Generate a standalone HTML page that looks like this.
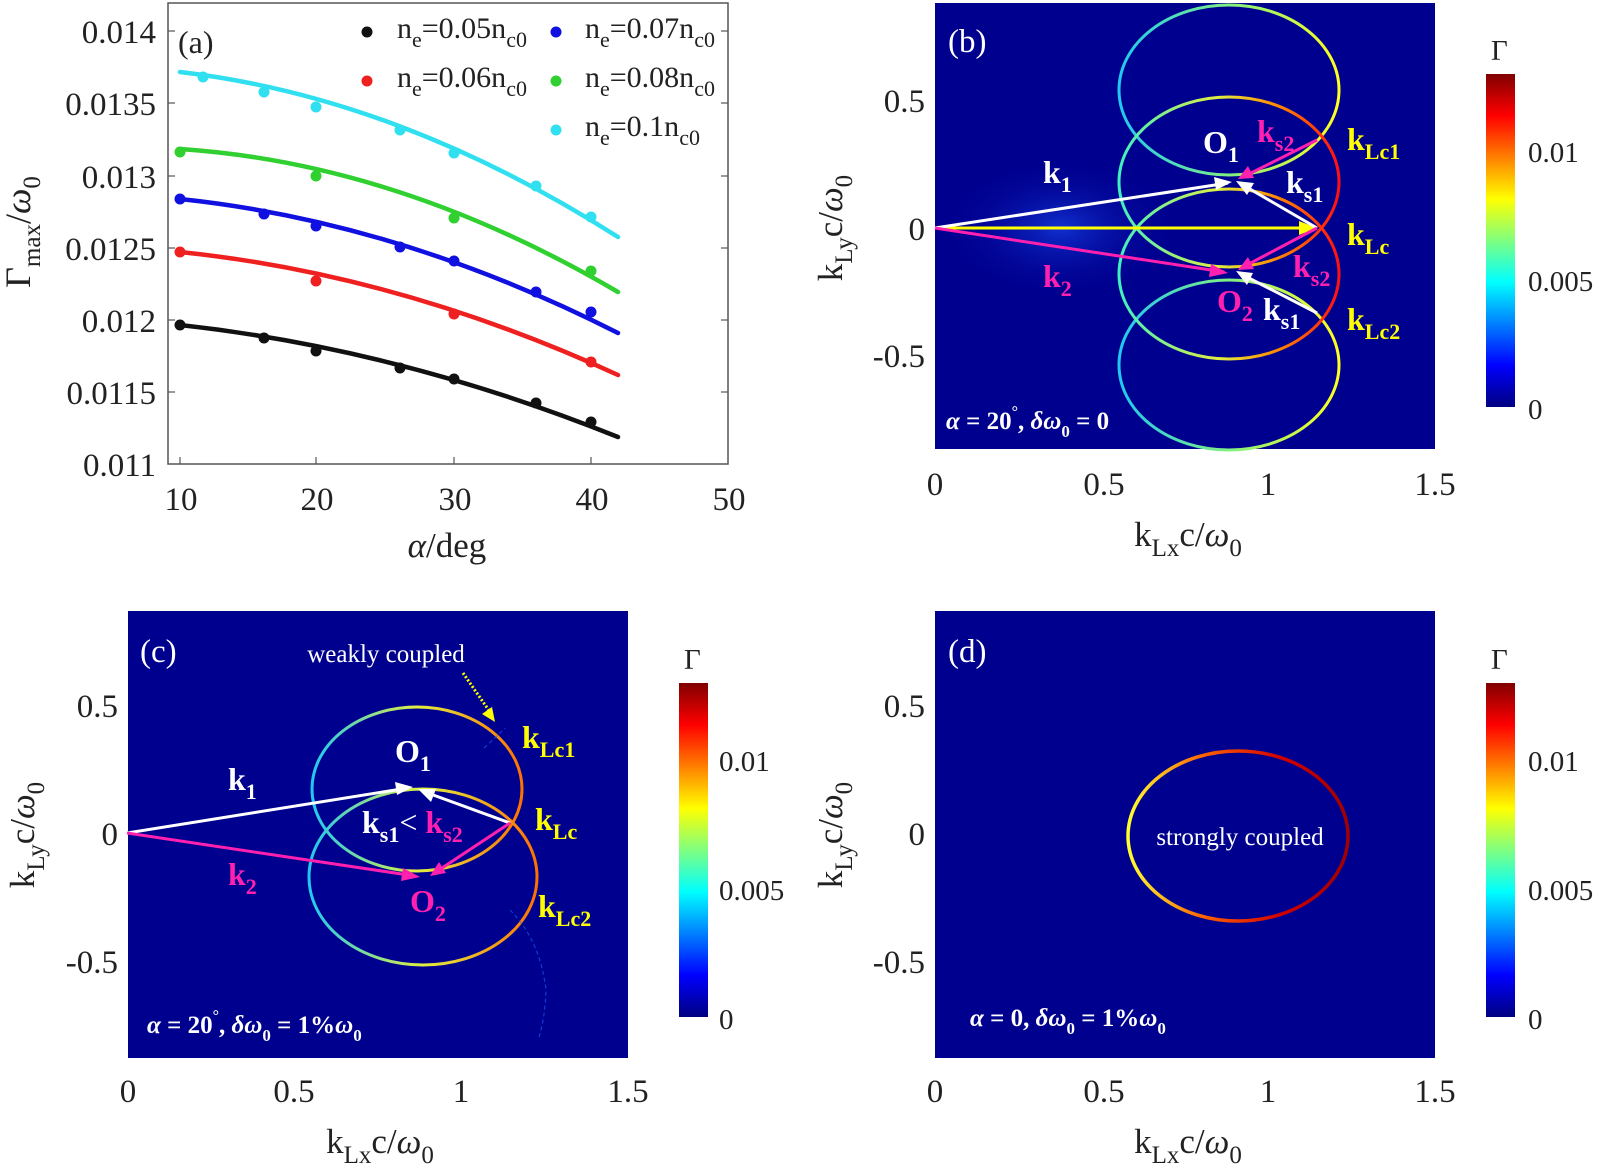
<!DOCTYPE html>
<html><head><meta charset="utf-8"><style>
html,body{margin:0;padding:0;background:#fff}
svg{display:block}
text{font-family:"Liberation Serif",serif}
</style></head><body>
<svg width="1600" height="1172" viewBox="0 0 1600 1172" xmlns="http://www.w3.org/2000/svg">
<defs>
<linearGradient id="jet" x1="0" y1="1" x2="0" y2="0">
<stop offset="0" stop-color="#000080"/><stop offset="0.125" stop-color="#0000ff"/><stop offset="0.375" stop-color="#00ffff"/><stop offset="0.625" stop-color="#ffff00"/><stop offset="0.875" stop-color="#ff0000"/><stop offset="1" stop-color="#800000"/>
</linearGradient>
<linearGradient id="cy" x1="0" y1="0" x2="1" y2="0"><stop offset="0" stop-color="#20c8f0"/><stop offset="0.5" stop-color="#80f080"/><stop offset="1" stop-color="#ffff20"/></linearGradient>
<linearGradient id="gr" x1="0" y1="0" x2="1" y2="0"><stop offset="0" stop-color="#40f0c0"/><stop offset="0.45" stop-color="#e0f040"/><stop offset="0.7" stop-color="#ff9000"/><stop offset="1" stop-color="#ff1010"/></linearGradient>
<linearGradient id="co" x1="0" y1="0" x2="1" y2="0"><stop offset="0" stop-color="#20c8f0"/><stop offset="0.5" stop-color="#e0f040"/><stop offset="1" stop-color="#ff7000"/></linearGradient>
<linearGradient id="yr" x1="0" y1="0" x2="1" y2="0"><stop offset="0" stop-color="#ffff30"/><stop offset="0.35" stop-color="#ff6000"/><stop offset="0.7" stop-color="#d00000"/><stop offset="1" stop-color="#a00000"/></linearGradient>
<radialGradient id="glow" cx="0.5" cy="0.5" r="0.5"><stop offset="0" stop-color="#1030d0"/><stop offset="1" stop-color="#00008f" stop-opacity="0"/></radialGradient>
</defs>

<!-- Panel (a) -->
<rect x="168" y="3" width="560" height="461" fill="#fff" stroke="#555" stroke-width="1.5"/>
<g stroke="#555" stroke-width="1.2">
<line x1="168" y1="31" x2="175" y2="31"/><line x1="168" y1="103" x2="175" y2="103"/><line x1="168" y1="176" x2="175" y2="176"/><line x1="168" y1="248" x2="175" y2="248"/><line x1="168" y1="320" x2="175" y2="320"/><line x1="168" y1="392" x2="175" y2="392"/>
<line x1="728" y1="31" x2="721" y2="31"/><line x1="728" y1="103" x2="721" y2="103"/><line x1="728" y1="176" x2="721" y2="176"/><line x1="728" y1="248" x2="721" y2="248"/><line x1="728" y1="320" x2="721" y2="320"/><line x1="728" y1="392" x2="721" y2="392"/>
<line x1="180" y1="464" x2="180" y2="457"/><line x1="316" y1="464" x2="316" y2="457"/><line x1="454" y1="464" x2="454" y2="457"/><line x1="591" y1="464" x2="591" y2="457"/>
</g>
<g font-size="33" fill="#222" text-anchor="end">
<text x="156" y="43">0.014</text><text x="156" y="115">0.0135</text><text x="156" y="188">0.013</text><text x="156" y="260">0.0125</text><text x="156" y="332">0.012</text><text x="156" y="404">0.0115</text><text x="156" y="476">0.011</text>
</g>
<g font-size="33" fill="#222" text-anchor="middle">
<text x="181" y="510">10</text><text x="317" y="510">20</text><text x="455" y="510">30</text><text x="592" y="510">40</text><text x="729" y="510">50</text>
<text x="447" y="557" font-size="35"><tspan font-style="italic">α</tspan>/deg</text>
</g>
<text transform="translate(30,232) rotate(-90)" font-size="36" fill="#222" text-anchor="middle">Γ<tspan font-size="25" dy="10">max</tspan><tspan dy="-10">/</tspan><tspan font-style="italic">ω</tspan><tspan font-size="25" dy="10">0</tspan></text>
<text x="178" y="53" font-size="32" fill="#222">(a)</text>
<g fill="none" stroke-width="4.5" stroke-linecap="round">
<path stroke="#30e0f0" d="M180,72 Q399,97.5 618,237"/>
<path stroke="#30d030" d="M180,149 Q399,163.5 618,292"/>
<path stroke="#1010e0" d="M180,199 Q399,222 618,333"/>
<path stroke="#ee2020" d="M180,252 Q399,274.5 618,375"/>
<path stroke="#111" d="M180,325 Q399,349 618,437"/>
</g>
<g>
<g fill="#30e0f0"><circle cx="203" cy="77" r="5.5"/><circle cx="264" cy="92" r="5.5"/><circle cx="316" cy="107" r="5.5"/><circle cx="400" cy="130" r="5.5"/><circle cx="454" cy="153" r="5.5"/><circle cx="536" cy="186" r="5.5"/><circle cx="591" cy="217" r="5.5"/></g>
<g fill="#30d030"><circle cx="180" cy="152" r="5.5"/><circle cx="316" cy="176" r="5.5"/><circle cx="454" cy="218" r="5.5"/><circle cx="591" cy="271" r="5.5"/></g>
<g fill="#1010e0"><circle cx="180" cy="199" r="5.5"/><circle cx="264" cy="214" r="5.5"/><circle cx="316" cy="226" r="5.5"/><circle cx="400" cy="247" r="5.5"/><circle cx="454" cy="261" r="5.5"/><circle cx="536" cy="292" r="5.5"/><circle cx="591" cy="312" r="5.5"/></g>
<g fill="#ee2020"><circle cx="180" cy="252" r="5.5"/><circle cx="316" cy="281" r="5.5"/><circle cx="454" cy="314" r="5.5"/><circle cx="591" cy="362" r="5.5"/></g>
<g fill="#111"><circle cx="180" cy="325" r="5.5"/><circle cx="264" cy="338" r="5.5"/><circle cx="316" cy="351" r="5.5"/><circle cx="400" cy="368" r="5.5"/><circle cx="454" cy="379" r="5.5"/><circle cx="536" cy="403" r="5.5"/><circle cx="591" cy="422" r="5.5"/></g>
</g>
<!-- legend -->
<circle cx="367" cy="32" r="5.5" fill="#111"/><circle cx="556" cy="32" r="5.5" fill="#1010e0"/>
<circle cx="367" cy="81" r="5.5" fill="#ee2020"/><circle cx="556" cy="81" r="5.5" fill="#30d030"/>
<circle cx="556" cy="130" r="5.5" fill="#30e0f0"/>
<g font-size="30" fill="#222">
<text x="397" y="38">n<tspan font-size="22" dy="9">e</tspan><tspan dy="-9">=0.05n</tspan><tspan font-size="22" dy="9">c0</tspan></text>
<text x="585" y="38">n<tspan font-size="22" dy="9">e</tspan><tspan dy="-9">=0.07n</tspan><tspan font-size="22" dy="9">c0</tspan></text>
<text x="397" y="87">n<tspan font-size="22" dy="9">e</tspan><tspan dy="-9">=0.06n</tspan><tspan font-size="22" dy="9">c0</tspan></text>
<text x="585" y="87">n<tspan font-size="22" dy="9">e</tspan><tspan dy="-9">=0.08n</tspan><tspan font-size="22" dy="9">c0</tspan></text>
<text x="585" y="136">n<tspan font-size="22" dy="9">e</tspan><tspan dy="-9">=0.1n</tspan><tspan font-size="22" dy="9">c0</tspan></text>
</g>

<!-- Panel (b) -->
<rect x="935" y="3" width="500" height="446" fill="#00008f"/>
<ellipse cx="1060" cy="228" rx="120" ry="70" fill="url(#glow)"/>
<g fill="none" stroke-width="3">
<ellipse cx="1229" cy="90" rx="110" ry="85" stroke="url(#cy)"/>
<ellipse cx="1229" cy="365" rx="110" ry="85" stroke="url(#cy)"/>
<ellipse cx="1229" cy="182" rx="110" ry="85" stroke="url(#gr)"/>
<ellipse cx="1229" cy="274" rx="110" ry="85" stroke="url(#gr)"/>
</g>
<g stroke-width="3" fill="none">
<line x1="935" y1="228" x2="1305" y2="228" stroke="#ffff00"/>
<path d="M1317,228 l-18,-7 v14 z" fill="#ffff00" stroke="none"/>
<line x1="935" y1="228" x2="1228" y2="183" stroke="#fff"/>
<path d="M1232,182 l-18,-5 l2,13 z" fill="#fff" stroke="none"/>
<line x1="935" y1="228" x2="1224" y2="272" stroke="#ff20b0"/>
<path d="M1228,273 l-17,-9 l-2,13 z" fill="#ff20b0" stroke="none"/>
<line x1="1317" y1="228" x2="1243" y2="185" stroke="#fff"/>
<path d="M1236,181 l18,2 l-7,12 z" fill="#fff" stroke="none"/>
<line x1="1317" y1="140" x2="1245" y2="176" stroke="#ff20b0"/>
<path d="M1238,179 l10,-13 l6,12 z" fill="#ff20b0" stroke="none"/>
<line x1="1317" y1="228" x2="1245" y2="266" stroke="#ff20b0"/>
<path d="M1238,270 l10,-13 l6,12 z" fill="#ff20b0" stroke="none"/>
<line x1="1317" y1="313" x2="1243" y2="275" stroke="#fff"/>
<path d="M1236,271 l17,2 l-6,12 z" fill="#fff" stroke="none"/>
</g>
<g font-size="32" font-weight="bold">
<text x="1043" y="183" fill="#fff">k<tspan font-size="22" dy="9">1</tspan></text>
<text x="1043" y="287" fill="#ff20b0">k<tspan font-size="22" dy="9">2</tspan></text>
<text x="1203" y="153" fill="#fff">O<tspan font-size="22" dy="9">1</tspan></text>
<text x="1217" y="312" fill="#ff20b0">O<tspan font-size="22" dy="9">2</tspan></text>
<text x="1257" y="142" fill="#ff20b0">k<tspan font-size="22" dy="9">s2</tspan></text>
<text x="1286" y="193" fill="#fff">k<tspan font-size="22" dy="9">s1</tspan></text>
<text x="1293" y="277" fill="#ff20b0">k<tspan font-size="22" dy="9">s2</tspan></text>
<text x="1263" y="320" fill="#fff">k<tspan font-size="22" dy="9">s1</tspan></text>
<text x="1347" y="150" fill="#ffff00">k<tspan font-size="22" dy="9">Lc1</tspan></text>
<text x="1347" y="245" fill="#ffff00">k<tspan font-size="22" dy="9">Lc</tspan></text>
<text x="1347" y="330" fill="#ffff00">k<tspan font-size="22" dy="9">Lc2</tspan></text>
</g>
<text x="946" y="429" font-size="25" font-weight="bold" fill="#fff"><tspan font-style="italic">α</tspan> = 20<tspan font-size="16" dy="-12">°</tspan><tspan dy="12">, </tspan><tspan font-style="italic">δω</tspan><tspan font-size="17" dy="8">0</tspan><tspan dy="-8"> = 0</tspan></text>
<text x="948" y="52" font-size="33" fill="#fff">(b)</text>
<g font-size="33" fill="#222" text-anchor="end">
<text x="925" y="112">0.5</text><text x="925" y="240">0</text><text x="925" y="367">-0.5</text>
</g>
<g font-size="33" fill="#222" text-anchor="middle">
<text x="935" y="495">0</text><text x="1104" y="495">0.5</text><text x="1268" y="495">1</text><text x="1435" y="495">1.5</text>
</g>
<text x="1188" y="546" font-size="35" fill="#222" text-anchor="middle">k<tspan font-size="25" dy="10">Lx</tspan><tspan dy="-10">c/</tspan><tspan font-style="italic">ω</tspan><tspan font-size="25" dy="10">0</tspan></text>
<text transform="translate(842,228) rotate(-90)" font-size="35" fill="#222" text-anchor="middle">k<tspan font-size="25" dy="10">Ly</tspan><tspan dy="-10">c/</tspan><tspan font-style="italic">ω</tspan><tspan font-size="25" dy="10">0</tspan></text>
<rect x="1486" y="74" width="29" height="333" fill="url(#jet)"/>
<g font-size="29" fill="#222">
<text x="1491" y="60">Γ</text><text x="1528" y="162">0.01</text><text x="1528" y="291">0.005</text><text x="1528" y="419">0</text>
</g>

<!-- Panel (c) -->
<rect x="128" y="611" width="500" height="447" fill="#00008f"/>
<g fill="none" stroke-width="3">
<ellipse cx="417" cy="789" rx="105" ry="82" stroke="url(#co)"/>
<ellipse cx="423" cy="877" rx="114" ry="88" stroke="url(#co)"/>
</g>
<g fill="none" stroke="#2060ff" stroke-width="1.2" opacity="0.6" stroke-dasharray="4,3">
<path d="M484,748 Q495,738 505,728"/>
<path d="M510,910 Q540,940 546,990 Q545,1020 538,1040"/>
</g>
<g stroke-width="3" fill="none">
<line x1="127" y1="833" x2="408" y2="788" stroke="#fff"/>
<path d="M413,787 l-18,-5 l2,13 z" fill="#fff" stroke="none"/>
<line x1="127" y1="833" x2="415" y2="876" stroke="#ff20b0"/>
<path d="M420,877 l-17,-9 l-2,13 z" fill="#ff20b0" stroke="none"/>
<line x1="510" y1="823" x2="425" y2="792" stroke="#fff"/>
<path d="M418,789 l18,0 l-5,13 z" fill="#fff" stroke="none"/>
<line x1="510" y1="823" x2="436" y2="872" stroke="#ff20b0"/>
<path d="M430,876 l9,-14 l7,11 z" fill="#ff20b0" stroke="none"/>
<line x1="463" y1="673" x2="490" y2="712" stroke="#ffff00" stroke-dasharray="2,2"/>
<path d="M495,722 l-13,-8 l10,-7 z" fill="#ffff00" stroke="none"/>
</g>
<text x="386" y="662" font-size="25" fill="#fff" text-anchor="middle">weakly coupled</text>
<g font-size="32" font-weight="bold">
<text x="228" y="790" fill="#fff">k<tspan font-size="22" dy="9">1</tspan></text>
<text x="228" y="885" fill="#ff20b0">k<tspan font-size="22" dy="9">2</tspan></text>
<text x="395" y="762" fill="#fff">O<tspan font-size="22" dy="9">1</tspan></text>
<text x="410" y="912" fill="#ff20b0">O<tspan font-size="22" dy="9">2</tspan></text>
<text x="362" y="833" fill="#fff">k<tspan font-size="22" dy="9">s1</tspan><tspan dy="-9" font-weight="normal">&lt; </tspan><tspan fill="#ff20b0">k</tspan><tspan font-size="22" dy="9" fill="#ff20b0">s2</tspan></text>
<text x="522" y="748" fill="#ffff00">k<tspan font-size="22" dy="9">Lc1</tspan></text>
<text x="535" y="830" fill="#ffff00">k<tspan font-size="22" dy="9">Lc</tspan></text>
<text x="538" y="917" fill="#ffff00">k<tspan font-size="22" dy="9">Lc2</tspan></text>
</g>
<text x="147" y="1033" font-size="25" font-weight="bold" fill="#fff"><tspan font-style="italic">α</tspan> = 20<tspan font-size="16" dy="-12">°</tspan><tspan dy="12">, </tspan><tspan font-style="italic">δω</tspan><tspan font-size="17" dy="8">0</tspan><tspan dy="-8"> = 1%</tspan><tspan font-style="italic">ω</tspan><tspan font-size="17" dy="8">0</tspan></text>
<text x="140" y="662" font-size="33" fill="#fff">(c)</text>
<g font-size="33" fill="#222" text-anchor="end">
<text x="118" y="717">0.5</text><text x="118" y="845">0</text><text x="118" y="973">-0.5</text>
</g>
<g font-size="33" fill="#222" text-anchor="middle">
<text x="128" y="1102">0</text><text x="294" y="1102">0.5</text><text x="461" y="1102">1</text><text x="628" y="1102">1.5</text>
</g>
<text x="380" y="1153" font-size="35" fill="#222" text-anchor="middle">k<tspan font-size="25" dy="10">Lx</tspan><tspan dy="-10">c/</tspan><tspan font-style="italic">ω</tspan><tspan font-size="25" dy="10">0</tspan></text>
<text transform="translate(34,835) rotate(-90)" font-size="35" fill="#222" text-anchor="middle">k<tspan font-size="25" dy="10">Ly</tspan><tspan dy="-10">c/</tspan><tspan font-style="italic">ω</tspan><tspan font-size="25" dy="10">0</tspan></text>
<rect x="679" y="683" width="29" height="334" fill="url(#jet)"/>
<g font-size="29" fill="#222">
<text x="684" y="669">Γ</text><text x="719" y="771">0.01</text><text x="719" y="900">0.005</text><text x="719" y="1029">0</text>
</g>

<!-- Panel (d) -->
<rect x="935" y="611" width="500" height="447" fill="#00008f"/>
<ellipse cx="1238" cy="836" rx="110" ry="85" fill="none" stroke="url(#yr)" stroke-width="3.5"/>
<text x="1240" y="845" font-size="25" fill="#fff" text-anchor="middle">strongly coupled</text>
<text x="970" y="1026" font-size="25" font-weight="bold" fill="#fff"><tspan font-style="italic">α</tspan> = 0, <tspan font-style="italic">δω</tspan><tspan font-size="17" dy="8">0</tspan><tspan dy="-8"> = 1%</tspan><tspan font-style="italic">ω</tspan><tspan font-size="17" dy="8">0</tspan></text>
<text x="948" y="662" font-size="33" fill="#fff">(d)</text>
<g font-size="33" fill="#222" text-anchor="end">
<text x="925" y="717">0.5</text><text x="925" y="845">0</text><text x="925" y="973">-0.5</text>
</g>
<g font-size="33" fill="#222" text-anchor="middle">
<text x="935" y="1102">0</text><text x="1104" y="1102">0.5</text><text x="1268" y="1102">1</text><text x="1435" y="1102">1.5</text>
</g>
<text x="1188" y="1153" font-size="35" fill="#222" text-anchor="middle">k<tspan font-size="25" dy="10">Lx</tspan><tspan dy="-10">c/</tspan><tspan font-style="italic">ω</tspan><tspan font-size="25" dy="10">0</tspan></text>
<text transform="translate(842,835) rotate(-90)" font-size="35" fill="#222" text-anchor="middle">k<tspan font-size="25" dy="10">Ly</tspan><tspan dy="-10">c/</tspan><tspan font-style="italic">ω</tspan><tspan font-size="25" dy="10">0</tspan></text>
<rect x="1486" y="683" width="29" height="334" fill="url(#jet)"/>
<g font-size="29" fill="#222">
<text x="1491" y="669">Γ</text><text x="1528" y="771">0.01</text><text x="1528" y="900">0.005</text><text x="1528" y="1029">0</text>
</g>
</svg>
</body></html>
